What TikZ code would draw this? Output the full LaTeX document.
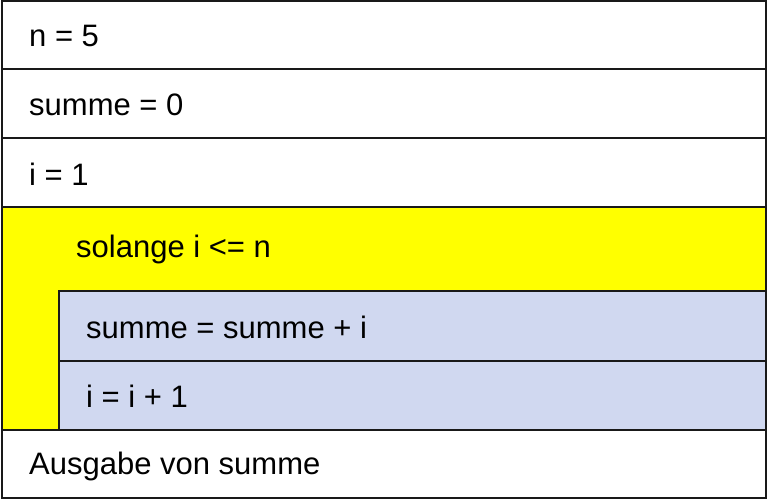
\documentclass[tikz,border=0pt]{standalone}
\usepackage{fontspec}
\setmainfont{Liberation Sans}
\definecolor{loopyellow}{RGB}{255,255,0}
\definecolor{bodyblue}{RGB}{208,216,240}

\begin{document}
\begin{tikzpicture}[x=1pt,y=-1pt]
        \tikzset{
            cell/.style={draw=black!90,line width=1.6pt},
            stmt/.style={anchor=west,inner sep=0pt,font=\fontsize{31}{34}\selectfont}
        }
        \useasboundingbox (0,0) rectangle (768,500);

        % Anweisungsbloecke
        \draw[cell,fill=white] (2,1) rectangle (766,69);
        \draw[cell,fill=white] (2,69) rectangle (766,138);
        \draw[cell,fill=white] (2,138) rectangle (766,207);
        \draw[cell,fill=loopyellow] (2,207) rectangle (766,430);
        \draw[cell,fill=bodyblue] (59,291) rectangle (766,361);
        \draw[cell,fill=bodyblue] (59,361) rectangle (766,430);
        \draw[cell,line width=2.4pt] (59,361) -- (766,361);
        \draw[cell,fill=white] (2,430) rectangle (766,498);

        \node[stmt] (N) at (29,36) {n = 5};
        \node[stmt] (S0) at (29,105) {summe = 0};
        \node[stmt] (I1) at (29,174) {i = 1};
        \node[stmt] (W) at (76,249) {solange i <= n};
        \node[stmt] (S1) at (86,327) {summe = summe + i};
        \node[stmt] (I2) at (86,396) {i = i + 1};
        \node[stmt] (Out) at (29,466) {Ausgabe von summe};

    \end{tikzpicture}
\end{document}
